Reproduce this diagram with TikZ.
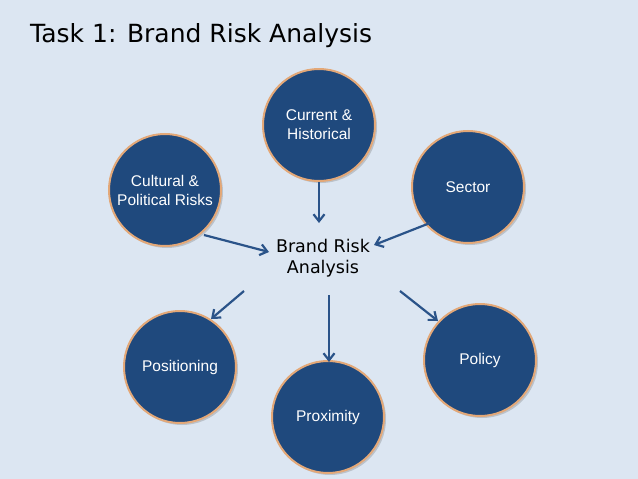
\documentclass[tikz,border=0pt]{standalone}
\usepackage{fontspec}
\setmainfont{DejaVu Sans}
\newfontfamily\arial{Liberation Sans}
\usetikzlibrary{arrows.meta,shadows}
\definecolor{bg}{HTML}{DCE6F2}
\definecolor{cfill}{HTML}{1F497D}
\definecolor{cring}{HTML}{E3A878}
\definecolor{arr}{HTML}{2A5389}
\tikzset{
  circ/.style={circle,fill=cfill,draw=cring,line width=2pt,minimum size=112pt,
    text=white,font=\arial\fontsize{15.5}{19}\selectfont,align=center,inner sep=0pt,
    drop shadow={shadow xshift=2pt,shadow yshift=-2pt,opacity=0.35}},
  arrow/.style={draw=arr,line width=2.2pt,-{Straight Barb[length=7pt,width=11pt]}}
}
\begin{document}
\begin{tikzpicture}[x=1pt,y=-1pt]
\fill[bg] (0,0) rectangle (638,479);
\useasboundingbox (0,0) rectangle (638,479);
\node[anchor=west,font=\fontsize{25}{28}\selectfont,inner sep=0pt] (title) at (30,36) {Task 1: Brand Risk Analysis};
\node[circ] (ch) at (319,125) {Current \&\\Historical};
\node[circ] (cp) at (165,190) {Cultural \&\\Political Risks};
\node[circ] (se) at (468,187) {Sector};
\node[circ] (po) at (180,367) {Positioning};
\node[circ] (pr) at (328,417) {Proximity};
\node[circ] (pl) at (480,360) {Policy};
\node[font=\fontsize{17.5}{21}\selectfont,align=center] (br) at (323,258) {Brand Risk\\Analysis};
\coordinate (a1s) at (319,182); \coordinate (a1e) at (319,223);
\coordinate (a2s) at (204,235); \coordinate (a2e) at (269,252);
\coordinate (a3s) at (430,223); \coordinate (a3e) at (374,245);
\coordinate (a4s) at (244,291); \coordinate (a4e) at (211,319);
\coordinate (a5s) at (329,295); \coordinate (a5e) at (329,362);
\coordinate (a6s) at (400,291); \coordinate (a6e) at (438,321);
\foreach \i in {1,...,6}{\draw[arrow] (a\i s) -- (a\i e);}
\end{tikzpicture}
\end{document}
